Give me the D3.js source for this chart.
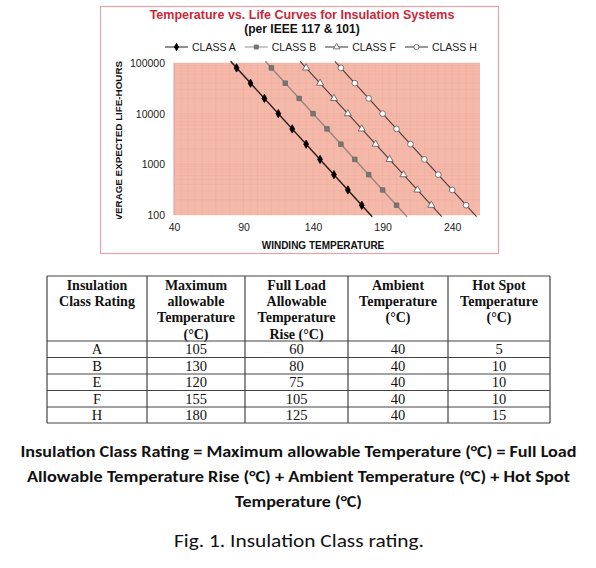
<!DOCTYPE html>
<html>
<head>
<meta charset="utf-8">
<script src="https://cdn.jsdelivr.net/npm/d3@7"></script>
<style>
  body { margin: 0; background: #fff; }
  svg { display: block; }
</style>
</head>
<body>
<svg id="fig" width="596" height="568"></svg>
<script>
// temperatures (°C) of the plotted markers, one array per class
const classes = ["CLASS A", "CLASS B", "CLASS F", "CLASS H"];
const tempsA = [85, 95, 105, 115, 125, 135, 145, 155, 165, 175];
const tempsB = [110, 120, 130, 140, 150, 160, 170, 180, 190, 200];
const tempsF = [135, 145, 155, 165, 175, 185, 195, 205, 215, 225];
const tempsH = [160, 170, 180, 190, 200, 210, 220, 230, 240, 250];
// expected life (hours) at each marker, same for every class
const lifeHours = [80000, 40000, 20000, 10000, 5000, 2500, 1250, 625, 312, 156];
const xTicks = [40, 90, 140, 190, 240];
const yTicks = [100, 1000, 10000, 100000];

// table
const tableHeader = [
  ["Insulation", "Class Rating"],
  ["Maximum", "allowable", "Temperature", "(°C)"],
  ["Full Load", "Allowable", "Temperature", "Rise (°C)"],
  ["Ambient", "Temperature", "(°C)"],
  ["Hot Spot", "Temperature", "(°C)"]
];
const ratingClass = ["A", "B", "E", "F", "H"];
const maxTemp = [105, 130, 120, 155, 180];
const tempRise = [60, 80, 75, 105, 125];
const ambient = [40, 40, 40, 40, 40];
const hotSpot = [5, 10, 10, 10, 15];

const captionLines = [
  "Insulation Class Rating = Maximum allowable Temperature (°C) = Full Load",
  "Allowable Temperature Rise (°C) + Ambient Temperature (°C) + Hot Spot",
  "Temperature (°C)"
];
const figCaption = "Fig. 1. Insulation Class rating.";

const svg = d3.select("#fig");
const sans = "'Liberation Sans', Arial, sans-serif";

// chart frame
svg.append("rect")
  .attr("x", 100.5).attr("y", 6.5)
  .attr("width", 398).attr("height", 247)
  .attr("fill", "#fff")
  .attr("stroke", "#e3a4ac")
  .attr("stroke-width", 1.2);

const plot = { left: 174, right: 480, top: 63, bottom: 215 };
const x = d3.scaleLinear().domain([40, 260]).range([plot.left, plot.right]);
const y = d3.scaleLog().domain([100, 100000]).range([plot.bottom, plot.top]);

svg.append("rect")
  .attr("x", plot.left).attr("y", plot.top)
  .attr("width", plot.right - plot.left).attr("height", plot.bottom - plot.top)
  .attr("fill", "#f5b9aa");

// grid
const grid = svg.append("g").attr("stroke", "#eaa797").attr("stroke-width", 0.6);
grid.selectAll("line.v")
  .data(d3.range(45, 260, 5))
  .enter().append("line")
  .attr("x1", d => x(d)).attr("x2", d => x(d))
  .attr("y1", plot.top).attr("y2", plot.bottom)
  .attr("opacity", d => d % 10 === 0 ? 0.55 : 0.35);
grid.selectAll("line.h")
  .data(y.ticks())
  .enter().append("line")
  .attr("x1", plot.left).attr("x2", plot.right)
  .attr("y1", d => y(d)).attr("y2", d => y(d))
  .attr("opacity", 0.5);
svg.append("line")
  .attr("x1", plot.left).attr("x2", plot.left)
  .attr("y1", plot.top).attr("y2", plot.bottom)
  .attr("stroke", "#d89aa6").attr("stroke-width", 1);

// axes
const xAxis = svg.append("g")
  .attr("transform", `translate(0,${plot.bottom})`)
  .call(d3.axisBottom(x).tickValues(xTicks).tickSize(0).tickPadding(9));
const yAxis = svg.append("g")
  .attr("transform", `translate(${plot.left},0)`)
  .call(d3.axisLeft(y).tickValues(yTicks).tickFormat(d3.format("d")).tickSize(0).tickPadding(9));
[xAxis, yAxis].forEach(a => {
  a.select(".domain").remove();
  a.selectAll("text")
    .attr("font-family", sans).attr("font-size", 10.5).attr("fill", "#222");
});

// series
const series = [
  { name: classes[0], temps: tempsA, line: "#2b1b1b", legendLine: "#333", width: 1.5, symbol: d3.symbolDiamond, size: 20, fill: "#000", stroke: "#000" },
  { name: classes[1], temps: tempsB, line: "#9c827d", legendLine: "#999", width: 1.3, symbol: d3.symbolSquare, size: 20, fill: "#777", stroke: "#666" },
  { name: classes[2], temps: tempsF, line: "#4e3c3c", legendLine: "#444", width: 1.1, symbol: d3.symbolTriangle, size: 22, fill: "#fff", stroke: "#555" },
  { name: classes[3], temps: tempsH, line: "#4e3c3c", legendLine: "#444", width: 1.1, symbol: d3.symbolCircle, size: 26, fill: "#fff", stroke: "#555" }
];

series.forEach(s => {
  const pts = s.temps.map((t, i) => ({ t, v: lifeHours[i] }));
  // extend the fitted log-line to the top and bottom of the y domain
  const first = pts[0], last = pts[pts.length - 1];
  const slope = (Math.log10(last.v) - Math.log10(first.v)) / (last.t - first.t);
  const tAt = v => first.t + (Math.log10(v) - Math.log10(first.v)) / slope;
  const [lo, hi] = y.domain();
  svg.append("line")
    .attr("x1", x(tAt(hi * 1.08))).attr("y1", y(hi * 1.08))
    .attr("x2", x(tAt(lo / 1.08))).attr("y2", y(lo / 1.08))
    .attr("stroke", s.line).attr("stroke-width", s.width);
  svg.append("g").selectAll("path")
    .data(pts)
    .enter().append("path")
    .attr("transform", d => `translate(${x(d.t)},${y(d.v)})`)
    .attr("d", d3.symbol(s.symbol, s.size))
    .attr("fill", s.fill).attr("stroke", s.stroke).attr("stroke-width", 0.8);
});

// legend
const legend = svg.append("g").attr("transform", "translate(165,47)");
let lx = 0;
series.forEach(s => {
  const g = legend.append("g").attr("transform", `translate(${lx},0)`);
  g.append("line").attr("x1", 0).attr("x2", 23).attr("y1", 0).attr("y2", 0)
    .attr("stroke", s.legendLine).attr("stroke-width", 1.1);
  g.append("path").attr("transform", "translate(11.5,0)")
    .attr("d", d3.symbol(s.symbol, s.size * 0.8))
    .attr("fill", s.fill).attr("stroke", s.stroke).attr("stroke-width", 0.8);
  const t = g.append("text").attr("x", 27).attr("y", 4)
    .attr("font-family", sans).attr("font-size", 10.5).attr("fill", "#222")
    .text(s.name);
  lx += 27 + t.node().getComputedTextLength() + 9;
});

// titles
svg.append("text").attr("x", 302).attr("y", 19).attr("text-anchor", "middle")
  .attr("font-family", sans).attr("font-weight", "bold").attr("font-size", 12.5)
  .attr("fill", "#c8283a").text("Temperature vs. Life Curves for Insulation Systems");
svg.append("text").attr("x", 302).attr("y", 32.5).attr("text-anchor", "middle")
  .attr("font-family", sans).attr("font-weight", "bold").attr("font-size", 12)
  .attr("fill", "#111").text("(per IEEE 117 & 101)");
svg.append("text").attr("x", 323).attr("y", 249).attr("text-anchor", "middle")
  .attr("font-family", sans).attr("font-weight", "bold").attr("font-size", 10)
  .attr("fill", "#111").text("WINDING TEMPERATURE");

svg.append("clipPath").attr("id", "yclip")
  .append("rect").attr("x", 100).attr("y", 40).attr("width", 40).attr("height", 179);
svg.append("g").attr("clip-path", "url(#yclip)")
  .append("text")
  .attr("transform", "translate(121.5,61) rotate(-90)")
  .attr("text-anchor", "end")
  .attr("font-family", sans).attr("font-weight", "bold").attr("font-size", 9.8)
  .attr("fill", "#111").text("AVERAGE EXPECTED LIFE-HOURS");

// table
const colEdges = [47, 147, 245, 348, 448, 550];
const rowEdges = [276, 341, 357.5, 374, 390.5, 407, 423];
const tbl = svg.append("g");
const serif = "'Liberation Serif', 'Times New Roman', serif";
const rows = ratingClass.map((c, i) => [c, maxTemp[i], tempRise[i], ambient[i], hotSpot[i]]);

tableHeader.forEach((lines, c) => {
  const cx = (colEdges[c] + colEdges[c + 1]) / 2;
  lines.forEach((ln, k) => {
    tbl.append("text").attr("x", cx).attr("y", 290 + k * 16.2)
      .attr("text-anchor", "middle").attr("font-family", serif)
      .attr("font-weight", "bold").attr("font-size", 14).attr("fill", "#111").text(ln);
  });
});
rows.forEach((r, ri) => {
  r.forEach((v, c) => {
    tbl.append("text")
      .attr("x", (colEdges[c] + colEdges[c + 1]) / 2)
      .attr("y", rowEdges[ri + 1] + 13)
      .attr("text-anchor", "middle").attr("font-family", serif)
      .attr("font-size", 14.5).attr("fill", "#111").text(v);
  });
});
tbl.selectAll("line.row").data(rowEdges).enter().append("line")
  .attr("x1", colEdges[0]).attr("x2", colEdges[colEdges.length - 1])
  .attr("y1", d => d).attr("y2", d => d)
  .attr("stroke", "#444").attr("stroke-width", 1.2);
tbl.selectAll("line.col").data(colEdges).enter().append("line")
  .attr("x1", d => d).attr("x2", d => d)
  .attr("y1", rowEdges[0]).attr("y2", rowEdges[rowEdges.length - 1])
  .attr("stroke", "#444").attr("stroke-width", 1.2);

// caption
const capFont = "Carlito, Lato, 'Open Sans', sans-serif";
const capWidths = [556, 543, 127];
captionLines.forEach((ln, i) => {
  svg.append("text").attr("x", 298.5).attr("y", 457 + i * 25)
    .attr("text-anchor", "middle").attr("font-family", capFont)
    .attr("font-weight", "bold").attr("font-size", 15).attr("fill", "#111")
    .attr("textLength", capWidths[i]).attr("lengthAdjust", "spacingAndGlyphs")
    .text(ln);
});
svg.append("text").attr("x", 299).attr("y", 547)
  .attr("text-anchor", "middle").attr("font-family", capFont)
  .attr("font-size", 18).attr("fill", "#111")
  .attr("textLength", 250).attr("lengthAdjust", "spacingAndGlyphs")
  .text(figCaption);
</script>
</body>
</html>
